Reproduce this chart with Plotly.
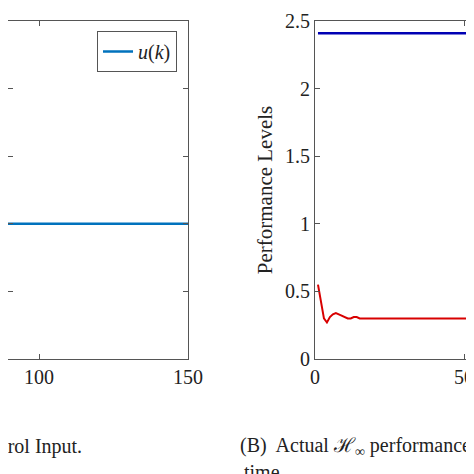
import plotly.graph_objects as go
from plotly.subplots import make_subplots

# Left panel: control input u(k)
k_u = list(range(0, 151))
u_vals = [1.0] * len(k_u)

# Right panel: actual H-inf performance level and bound
k_perf = list(range(1, 151))
perf_head = [0.55, 0.42, 0.30, 0.27, 0.31, 0.33, 0.34, 0.33, 0.32, 0.31,
             0.30, 0.30, 0.31, 0.31, 0.30, 0.30, 0.30, 0.305, 0.30, 0.30]
perf_vals = perf_head + [0.30] * (len(k_perf) - len(perf_head))
bound_vals = [2.41] * len(k_perf)

W = 474
fig = make_subplots(rows=1, cols=2)
fig.add_trace(go.Scatter(x=k_u, y=u_vals, mode="lines", name="<i>u</i>(<i>k</i>)",
                         line=dict(color="#0072BD", width=2.5)), row=1, col=1)
fig.add_trace(go.Scatter(x=k_perf, y=perf_vals, mode="lines", showlegend=False,
                         line=dict(color="#d80000", width=2)), row=1, col=2)
fig.add_trace(go.Scatter(x=k_perf, y=bound_vals, mode="lines", showlegend=False,
                         line=dict(color="#0000b4", width=2.5)), row=1, col=2)

ax = dict(showline=True, linecolor="#555", linewidth=1, mirror="ticks", ticks="inside",
          ticklen=5, tickcolor="#555", showgrid=False, zeroline=False, automargin=False,
          tickfont=dict(size=20, color="#222"))
fig.update_xaxes(**ax)
fig.update_yaxes(**ax)
fig.update_xaxes(domain=[0, 180 / W], range=[150 - 180 / 149 * 50, 150],
                 tickvals=[50, 100, 150], row=1, col=1)
fig.update_yaxes(domain=[123 / W, 461 / W], range=[0, 2.5], dtick=0.5, side="right",
                 showticklabels=False, row=1, col=1)
fig.update_xaxes(domain=[307 / W, 1], range=[0, (W - 307) / 149 * 50],
                 tickvals=[0, 50, 100, 150], row=1, col=2)
fig.update_yaxes(domain=[123 / W, 461 / W], range=[0, 2.5], dtick=0.5,
                 title=dict(text="Performance Levels", font=dict(size=21, color="#222"), standoff=6),
                 row=1, col=2)

fig.update_layout(
    width=W, height=W, margin=dict(l=0, r=0, t=0, b=0),
    plot_bgcolor="white", paper_bgcolor="white",
    font=dict(family="Liberation Serif, Times New Roman, serif", color="#222"),
    legend=dict(x=169 / W, y=(W - 23) / W, xanchor="right", yanchor="top",
                bordercolor="#555", borderwidth=1, bgcolor="white",
                font=dict(size=20)),
    annotations=[
        dict(text="(A) Control Input.", x=76 / W, y=(W - 438) / W, xref="paper", yref="paper",
             xanchor="right", yanchor="middle", showarrow=False, font=dict(size=20)),
        dict(text="(B)  Actual ℋ<sub>∞</sub> performance level over", x=230 / W,
             y=(W - 438) / W, xref="paper", yref="paper", xanchor="left", yanchor="middle",
             showarrow=False, font=dict(size=20)),
        dict(text="time.", x=234 / W, y=(W - 464) / W, xref="paper", yref="paper",
             xanchor="left", yanchor="middle", showarrow=False, font=dict(size=20)),
    ],
)
fig.write_html("out.html")
